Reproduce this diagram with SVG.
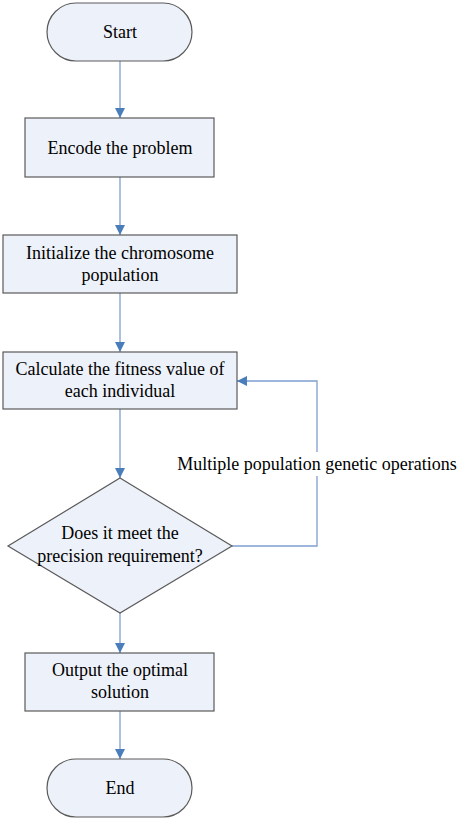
<svg xmlns="http://www.w3.org/2000/svg" width="474" height="821" viewBox="0 0 474 821">
<defs>
<marker id="ah" markerWidth="10" markerHeight="10" refX="10" refY="5" orient="auto" markerUnits="userSpaceOnUse">
<path d="M0,0 L10,5 L0,10 Z" fill="#4a7ebb"/>
</marker>
<style>
.n{fill:#edf1f9;stroke:#5a5a5a;stroke-width:1.2}
.t{font-size:18px;fill:#000;text-anchor:middle}
.c{fill:none;stroke:#7f9fcf;stroke-width:1.3}
</style>
</defs>
<rect width="474" height="821" fill="#fff"/>
<g font-family="Liberation Serif, DejaVu Serif, serif">
<g id="connectors">
<line class="c" x1="120" y1="61" x2="120" y2="118" marker-end="url(#ah)"/>
<line class="c" x1="120" y1="177" x2="120" y2="235" marker-end="url(#ah)"/>
<line class="c" x1="120" y1="293" x2="120" y2="352" marker-end="url(#ah)"/>
<line class="c" x1="120" y1="409" x2="120" y2="478" marker-end="url(#ah)"/>
<line class="c" x1="120" y1="613" x2="120" y2="653" marker-end="url(#ah)"/>
<line class="c" x1="120" y1="711" x2="120" y2="759" marker-end="url(#ah)"/>
<polyline class="c" points="232,546 317,546 317,381 237,381" marker-end="url(#ah)"/>
<rect x="170" y="452" width="294" height="24" fill="#fff"/>
<text class="t" x="317" y="470">Multiple population genetic operations</text>
</g>
<g id="start">
<rect class="n" x="47" y="3" width="145" height="58" rx="29" ry="29"/>
<text class="t" x="120" y="38">Start</text>
</g>
<g id="encode">
<rect class="n" x="25" y="118" width="189" height="59"/>
<text class="t" x="120" y="154">Encode the problem</text>
</g>
<g id="init">
<rect class="n" x="3" y="235" width="234" height="58"/>
<text class="t" x="120" y="259">Initialize the chromosome</text>
<text class="t" x="120" y="281">population</text>
</g>
<g id="calc">
<rect class="n" x="3" y="352" width="234" height="57"/>
<text class="t" x="120" y="375">Calculate the fitness value of</text>
<text class="t" x="120" y="397">each individual</text>
</g>
<g id="decision">
<polygon class="n" points="120,478 232,546 120,613 8,546"/>
<text class="t" x="120" y="539">Does it meet the</text>
<text class="t" x="120" y="562">precision requirement?</text>
</g>
<g id="output">
<rect class="n" x="25" y="653" width="189" height="58"/>
<text class="t" x="120" y="676">Output the optimal</text>
<text class="t" x="120" y="698">solution</text>
</g>
<g id="end">
<rect class="n" x="47" y="759" width="145" height="58" rx="29" ry="29"/>
<text class="t" x="120" y="794">End</text>
</g>
</g>
</svg>
